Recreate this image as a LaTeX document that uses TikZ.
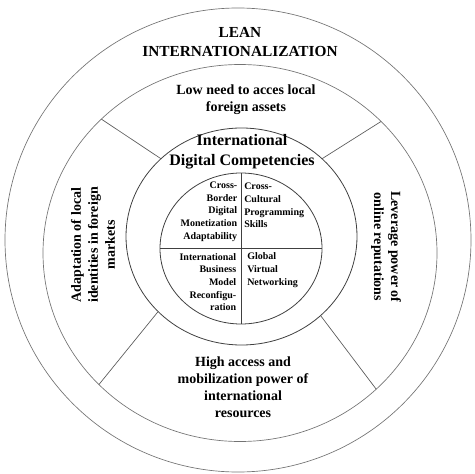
\documentclass[tikz,border=0pt]{standalone}
\usepackage{fontspec}
\setmainfont{Liberation Serif}
\usetikzlibrary{shapes.geometric}

\begin{document}
\begin{tikzpicture}[
  x=0.75pt, y=-0.75pt,
  ring/.style={ellipse, draw=black!55, line width=0.5pt, inner sep=0pt, outer sep=0pt},
  hub/.style={ellipse, draw=black!75, line width=0.6pt, inner sep=0pt, outer sep=0pt},
  divider/.style={draw=black!65, line width=0.5pt},
  ringtext/.style={font=\bfseries\fontsize{10.5}{12.8}\selectfont, align=center, inner sep=0pt},
  titletext/.style={font=\bfseries\fontsize{11.5}{14.25}\selectfont, align=center, inner sep=0pt},
  hubtext/.style={font=\bfseries\fontsize{12}{15}\selectfont, align=center, inner sep=0pt},
  cell/.style={font=\bfseries\fontsize{7.5}{9.5}\selectfont, inner sep=0pt}
]
\useasboundingbox (0,0) rectangle (474,474);
\node[ring, minimum width=349.5pt, minimum height=348pt] (outer) at (238,240) {};
\node[ring, minimum width=295.5pt, minimum height=282.75pt] (mid) at (240,253) {};
\node[hub, minimum width=173.25pt, minimum height=162.75pt] (core) at (241.5,236.5) {};
\node[hub, minimum width=121.5pt, minimum height=113.25pt] (quad) at (241,248.5) {};
\draw[hub] (quad.west) -- (quad.east);
\draw[hub] (quad.north) -- (quad.south);
\draw[divider] (mid.136.9) -- (core.136);
\draw[divider] (mid.43.5) -- (core.44.6);
\draw[divider] (mid.223.7) -- (core.222.8);
\draw[divider] (mid.315.6) -- (core.315.7);
\node[titletext] (lean) at (240,42) {LEAN\\INTERNATIONALIZATION};
\node[ringtext] (assets) at (246,100) {Low need to acces local\\foreign assets};
\node[ringtext, rotate=90] (identities) at (93,245) {Adaptation of local\\identities in foreign\\markets};
\node[ringtext, rotate=-90] (reputations) at (386,247) {Leverage power of\\online reputations};
\node[ringtext] (resources) at (243,387) {High access and\\mobilization power of\\international\\resources};
\node[hubtext] (idc) at (242,152) {International\\Digital Competencies};
\node[cell, anchor=east, align=right] (monetization) at (237.5,211.5) {Cross-\\Border\\Digital\\Monetization\\Adaptability};
\node[cell, anchor=west, align=left] (programming) at (244,205.5) {Cross-\\Cultural\\Programming\\Skills};
\node[cell, anchor=east, align=right] (business) at (236.5,282) {International\\Business\\Model\\Reconfigu-\\ration};
\node[cell, anchor=west, align=left] (networking) at (247,270) {Global\\Virtual\\Networking};
\end{tikzpicture}
\end{document}
